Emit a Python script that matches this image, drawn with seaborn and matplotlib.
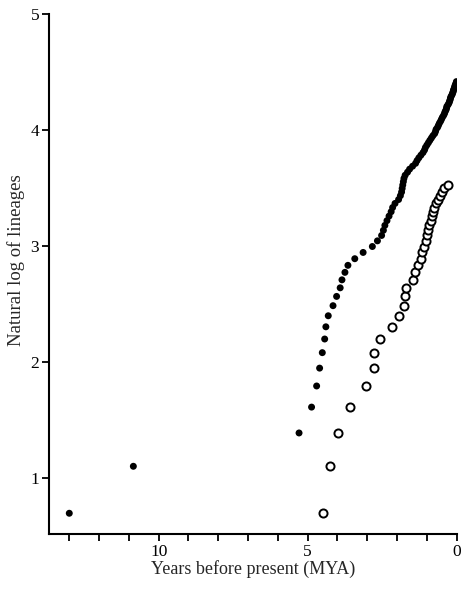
import numpy as np
import pandas as pd
import matplotlib
matplotlib.use("Agg")
import matplotlib.pyplot as plt
import seaborn as sns

# branching times (MYA), one per new lineage (2, 3, 4, ...)
filled_times = [
    13.0, 10.85, 5.29, 4.87, 4.70, 4.60, 4.51, 4.43, 4.39, 4.31,
    4.15, 4.03, 3.91, 3.85, 3.75, 3.65, 3.42, 3.14, 2.83, 2.66,
    2.52, 2.46, 2.41, 2.34, 2.27, 2.20, 2.15, 2.07, 1.95, 1.89,
    1.85, 1.83, 1.81, 1.79, 1.77, 1.73, 1.65, 1.58, 1.48, 1.38,
    1.33, 1.27, 1.20, 1.13, 1.08, 1.05, 1.00, 0.95, 0.90, 0.85,
    0.80, 0.74, 0.71, 0.69, 0.64, 0.61, 0.58, 0.54, 0.51, 0.48,
    0.44, 0.41, 0.39, 0.36, 0.34, 0.33, 0.29, 0.26, 0.24, 0.22,
    0.21, 0.19, 0.16, 0.14, 0.12, 0.11, 0.09, 0.07, 0.06, 0.04,
    0.02, 0.01,
]
open_times = [
    4.50, 4.25, 3.99, 3.59, 3.06, 2.79, 2.77, 2.57, 2.18, 1.94,
    1.77, 1.73, 1.70, 1.46, 1.41, 1.29, 1.21, 1.15, 1.10, 1.04,
    1.01, 0.95, 0.92, 0.87, 0.84, 0.78, 0.75, 0.69, 0.64, 0.56,
    0.50, 0.43, 0.28,
]
filled_lineages = np.arange(2, 2 + len(filled_times))
open_lineages = np.arange(2, 2 + len(open_times))

x_ticks = list(range(0, 14))
x_labels = {0: "0", 5: "5", 10: "10"}
y_ticks = [1, 2, 3, 4, 5]

sns.set_style("ticks")
plt.rcParams["font.family"] = ["Liberation Serif", "DejaVu Serif"]

filled = pd.DataFrame({"time": filled_times, "lnN": np.log(filled_lineages)})
hollow = pd.DataFrame({"time": open_times, "lnN": np.log(open_lineages)})

fig = plt.figure(figsize=(4.74, 5.96), dpi=100)
ax = fig.add_axes([0.1034, 0.104, 0.8601, 0.872])

sns.scatterplot(data=filled, x="time", y="lnN", ax=ax, color="black",
                s=25, edgecolor="none", legend=False)
sns.scatterplot(data=hollow, x="time", y="lnN", ax=ax, facecolor="white",
                edgecolor="black", linewidth=1.4, s=34, legend=False)

ax.set_xlim(13.68, 0)
ax.set_ylim(0.514, 5)
ax.set_xticks(x_ticks)
ax.set_xticklabels([x_labels.get(t, "") for t in x_ticks])
ax.set_yticks(y_ticks)
ax.set_yticklabels([str(t) for t in y_ticks])
ax.tick_params(axis="both", direction="out", length=5, width=1.3,
               labelsize=12.5, pad=2, color="black", labelcolor="black")

ax.spines["top"].set_visible(False)
ax.spines["right"].set_visible(False)
ax.spines["left"].set_linewidth(1.5)
ax.spines["bottom"].set_linewidth(1.5)
ax.spines["left"].set_color("black")
ax.spines["bottom"].set_color("black")

ax.set_xlabel("Years before present (MYA)", fontsize=13, labelpad=0)
ax.set_ylabel("Natural log of lineages", fontsize=13.5)
ax.yaxis.set_label_coords(-0.06, 0.527)

fig.savefig("out.png", dpi=100)
